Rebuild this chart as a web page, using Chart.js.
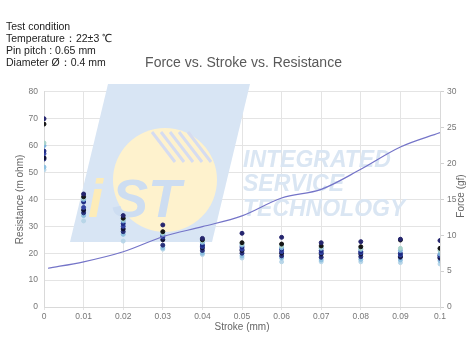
<!DOCTYPE html>
<html>
<head>
<meta charset="utf-8">
<script src="https://cdn.jsdelivr.net/npm/chart.js@4.4.0/dist/chart.umd.min.js"></script>
<style>
  body { margin: 0; background: #fff; }
  #wrap { position: relative; width: 474px; height: 355px; }
  #cond { position: absolute; left: 6px; top: 20px; font: 10.5px "Liberation Sans", Arial, sans-serif; line-height: 12px; color: #222; }
</style>
</head>
<body>
<div id="wrap">
  <canvas id="forceChart" width="474" height="355"></canvas>
  <div id="cond">Test condition<br>Temperature：22±3 ℃<br>Pin pitch : 0.65 mm<br>Diameter Ø：0.4 mm</div>
</div>
<script>
// stroke positions (mm)
const strokes = [0, 0.01, 0.02, 0.03, 0.04, 0.05, 0.06, 0.07, 0.08, 0.09, 0.1];

// resistance samples (m ohm), one array per sample
const sample1 = [70, 42, 34, 30.5, 25.5, 27.4, 25.9, 23.9, 24.3, 25.2, 24.7];
const sample2 = [68, 41, 33, 28, 25, 23.9, 23.4, 22.7, 22.4, 24.9, 21.8];
const sample3 = [61, 40.5, 32.5, 27.5, 24.5, 23.5, 22.7, 22.2, 21.8, 21.8, 21];
const sample4 = [60, 40, 32, 27, 24, 23, 22, 21.8, 21.4, 21, 19.7];
const sample5 = [58, 39, 31, 26.5, 23, 22.3, 21.5, 20.9, 20.6, 19.9, 19.3];
const sample6 = [57, 37, 30, 26, 22.5, 21.5, 20.6, 20.2, 20.2, 19.3, 19];
const sample7 = [55.5, 36, 29, 25, 22, 21, 20, 19.7, 19.7, 18.8, 18.5];
const sample8 = [55, 35, 28, 23, 21, 20, 19, 18.5, 18.7, 18.5, 18.1];
const sample9 = [52, 34, 27, 22, 20, 19, 18.2, 17.5, 17.7, 17.5, 17.2];
const sample10 = [51, 32, 24.5, 21.5, 19.5, 18.2, 16.8, 16.8, 16.8, 16.5, 16];
const samples = [sample1, sample2, sample3, sample4, sample5, sample6, sample7, sample8, sample9, sample10];
const sampleColors = ['#25256e', '#141414', '#a9d3cb', '#7db2dc', '#1f2c84', '#3444a3', '#111133', '#28307a', '#8ec0e0', '#b8d6e8'];

// force curve (gf)
const forceStroke = [0.001, 0.01, 0.02, 0.03, 0.04, 0.05, 0.06, 0.07, 0.08, 0.09, 0.1];
const forceValues = [5.4, 6.3, 7.7, 9.8, 11.2, 12.7, 15.2, 16.4, 19.2, 22.3, 24.3];

const xTicks = [0, 0.01, 0.02, 0.03, 0.04, 0.05, 0.06, 0.07, 0.08, 0.09, 0.1];

const FONT = '"Liberation Sans", Arial, sans-serif';

// IST logo watermark behind the points
const watermark = {
  id: 'watermark',
  beforeDatasetsDraw(chart) {
    const ctx = chart.ctx;
    ctx.save();
    ctx.fillStyle = 'rgb(216,229,244)';
    ctx.beginPath();
    ctx.moveTo(108, 84);
    ctx.lineTo(250, 84);
    ctx.lineTo(212, 242);
    ctx.lineTo(70, 242);
    ctx.closePath();
    ctx.fill();
    ctx.fillStyle = 'rgb(254,242,205)';
    ctx.beginPath();
    ctx.arc(165, 180, 52, 0, Math.PI * 2);
    ctx.fill();
    ctx.strokeStyle = 'rgb(214,220,240)';
    ctx.lineWidth = 3;
    for (let i = 0; i < 5; i++) {
      ctx.beginPath();
      ctx.moveTo(152 + i * 9, 132);
      ctx.lineTo(175 + i * 9, 162);
      ctx.stroke();
    }
    ctx.font = 'italic bold 54px ' + FONT;
    ctx.textBaseline = 'alphabetic';
    ctx.fillStyle = 'rgb(253,236,184)';
    ctx.fillText('i', 88, 217);
    ctx.fillStyle = 'rgb(205,221,241)';
    ctx.fillText('ST', 112, 217);
    ctx.font = 'italic bold 23px ' + FONT;
    ctx.fillStyle = 'rgb(218,230,243)';
    ctx.fillText('INTEGRATED', 243, 167);
    ctx.fillText('SERVICE', 243, 191);
    ctx.fillText('TECHNOLOGY', 243, 216);
    ctx.restore();
  },
  afterDraw(chart) {
    // right axis title, reading bottom to top
    const ctx = chart.ctx;
    ctx.save();
    ctx.translate(461, 196);
    ctx.rotate(-Math.PI / 2);
    ctx.font = '10px ' + FONT;
    ctx.fillStyle = '#666';
    ctx.textAlign = 'center';
    ctx.textBaseline = 'middle';
    ctx.fillText('Force (gf)', 0, 0);
    ctx.restore();
  }
};

const datasets = samples.map((s, i) => ({
  type: 'scatter',
  label: 'Sample ' + (i + 1),
  data: strokes.map((x, j) => ({x: x, y: s[j]})),
  backgroundColor: sampleColors[i],
  borderColor: sampleColors[i],
  pointRadius: 2,
  yAxisID: 'y'
}));

datasets.unshift({
  type: 'line',
  label: 'Force',
  data: forceStroke.map((x, j) => ({x: x, y: forceValues[j]})),
  borderColor: '#7474c8',
  borderWidth: 1.2,
  pointRadius: 0,
  cubicInterpolationMode: 'monotone',
  yAxisID: 'y1'
});

const canvasElement = document.getElementById('forceChart');
new Chart(canvasElement, {
  data: {datasets: datasets},
  plugins: [watermark],
  options: {
    responsive: false,
    animation: false,
    layout: {padding: {top: 55, left: 13, right: 0, bottom: 22}},
    plugins: {
      legend: {display: false},
      tooltip: {enabled: false},
      title: {
        display: true,
        text: 'Force vs. Stroke vs. Resistance',
        color: '#595959',
        font: {family: FONT, size: 14, weight: 'normal'},
        padding: {top: 0, bottom: 20}
      }
    },
    scales: {
      x: {
        type: 'linear',
        min: 0, max: 0.1,
        afterBuildTicks: (axis) => { axis.ticks = xTicks.map(v => ({value: v})); },
        afterFit: (axis) => { axis.height = 26; },
        ticks: {
          color: '#777', font: {family: FONT, size: 8.5},
          padding: 2,
          callback: (v) => String(Math.round(v * 100) / 100)
        },
        grid: {color: '#e4e4e4', tickLength: 3},
        border: {color: '#d9d9d9'},
        title: {display: true, text: 'Stroke (mm)', color: '#666', font: {family: FONT, size: 10}, padding: {top: 1, bottom: 0}}
      },
      y: {
        position: 'left',
        min: 0, max: 80,
        afterFit: (axis) => { axis.width = 31; },
        ticks: {stepSize: 10, color: '#777', font: {family: FONT, size: 8.5}, padding: 6},
        grid: {color: '#e4e4e4', drawTicks: false},
        border: {color: '#d9d9d9'},
        title: {display: true, text: 'Resistance (m ohm)', color: '#666', font: {family: FONT, size: 10}, padding: {top: 1, bottom: 0}}
      },
      y1: {
        position: 'right',
        min: 0, max: 30,
        afterFit: (axis) => { axis.width = 34; },
        ticks: {stepSize: 5, color: '#777', font: {family: FONT, size: 8.5}, padding: 3},
        grid: {drawOnChartArea: false, color: '#d0d0d0', tickLength: 4},
        border: {color: '#d9d9d9'}
      }
    }
  }
});
</script>
</body>
</html>
